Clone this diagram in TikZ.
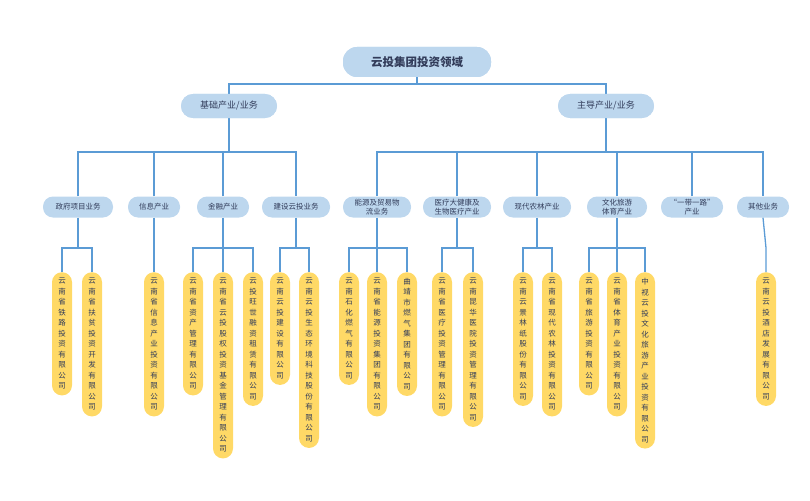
\documentclass[tikz,border=0pt]{standalone}
\usepackage{fontspec}
\setmainfont{Noto Sans CJK SC}
\def\vtx#1#2\relax{#1\if\relax\detokenize{#2}\relax\else\\\vtx#2\relax\fi}
\def\vt#1{\vtx#1\relax}
\definecolor{ln}{RGB}{91,155,213}
\definecolor{bl}{RGB}{189,215,238}
\definecolor{yl}{RGB}{255,217,102}
\definecolor{tx}{RGB}{50,60,90}
\tikzset{
 root/.style={fill=bl,rounded corners=14pt,minimum width=148pt,minimum height=30pt,font=\fontsize{11.5}{13}\selectfont\bfseries,text=tx},
 lone/.style={fill=bl,rounded corners=12pt,minimum width=96pt,minimum height=24pt,font=\fontsize{9}{11}\selectfont,text=tx},
 ltwo/.style={fill=bl,rounded corners=10pt,minimum height=21pt,inner xsep=3pt,inner ysep=2pt,font=\fontsize{7.5}{9}\selectfont,text=tx,align=center},
 leaf/.style={fill=yl,rounded corners=10pt,minimum width=20pt,text width=9pt,inner xsep=5.5pt,inner ysep=6pt,anchor=north,align=center,font=\fontsize{7.5}{10.5}\selectfont,text=tx},
 cn/.style={draw=ln,line width=1.3pt}
}
\begin{document}
\begin{tikzpicture}[x=1pt,y=-1pt]
\useasboundingbox (0,0) rectangle (810,500);
% connectors first
\node[root] (r) at (417,62) {云投集团投资领域};
\node[lone] (a) at (229,106) {基础产业/业务};
\node[lone] (b) at (606,106) {主导产业/业务};
\coordinate (rb) at (417,84);
\coordinate (ab) at (229,84);
\coordinate (bb) at (606,84);
\begin{scope}[on background layer/.style={}]
\end{scope}
% level 2
\node[ltwo,minimum width=70pt] (g1) at (78,207) {政府项目业务};
\node[ltwo,minimum width=52pt] (g2) at (154,207) {信息产业};
\node[ltwo,minimum width=52pt] (g3) at (223,207) {金融产业};
\node[ltwo,minimum width=68pt] (g4) at (296,207) {建设云投业务};
\node[ltwo,minimum width=68pt] (h1) at (377,207) {能源及贸易物\\流业务};
\node[ltwo,minimum width=68pt] (h2) at (457,207) {医疗大健康及\\生物医疗产业};
\node[ltwo,minimum width=68pt] (h3) at (537,207) {现代农林产业};
\node[ltwo,minimum width=60pt] (h4) at (617,207) {文化旅游\\体育产业};
\node[ltwo,minimum width=62pt] (h5) at (692,207) {“一带一路”\\产业};
\node[ltwo,minimum width=52pt] (h6) at (763,207) {其他业务};
% leaves
\node[leaf] (l1) at (62,272) {\vt{云南省铁路投资有限公司}};
\node[leaf] (l2) at (92,272) {\vt{云南省扶贫投资开发有限公司}};
\node[leaf] (l3) at (154,272) {\vt{云南省信息产业投资有限公司}};
\node[leaf] (l4) at (193,272) {\vt{云南省资产管理有限公司}};
\node[leaf] (l5) at (223,272) {\vt{云南省云投股权投资基金管理有限公司}};
\node[leaf] (l6) at (253,272) {\vt{云投旺世融资租赁有限公司}};
\node[leaf] (l7) at (280,272) {\vt{云南云投建设有限公司}};
\node[leaf] (l8) at (309,272) {\vt{云南云投生态环境科技股份有限公司}};
\node[leaf] (l9) at (349,272) {\vt{云南石化燃气有限公司}};
\node[leaf] (l10) at (377,272) {\vt{云南省能源投资集团有限公司}};
\node[leaf] (l11) at (407,272) {\vt{曲靖市燃气集团有限公司}};
\node[leaf] (l12) at (442,272) {\vt{云南省医疗投资管理有限公司}};
\node[leaf] (l13) at (473,272) {\vt{云南昆华医院投资管理有限公司}};
\node[leaf] (l14) at (523,272) {\vt{云南云景林纸股份有限公司}};
\node[leaf] (l15) at (552,272) {\vt{云南省现代农林投资有限公司}};
\node[leaf] (l16) at (589,272) {\vt{云南省旅游投资有限公司}};
\node[leaf] (l17) at (617,272) {\vt{云南省体育产业投资有限公司}};
\node[leaf] (l18) at (645,272) {\vt{中视云投文化旅游产业投资有限公司}};
\node[leaf] (l19) at (766,272) {\vt{云南云投酒店发展有限公司}};
% connectors
\begin{scope}[cn]
\draw (r) -- (rb);
\draw (a) |- (rb) -| (b);
\draw (a.south) -- (229,152);
\draw (b.south) -- (606,152);
\draw (g1) |- (229,152) -| (g4);
\draw (g2) -- (154,152);
\draw (g3) -- (223,152);
\draw (h1) |- (606,152) -| (h6);
\draw (h2) -- (457,152);
\draw (h3) -- (537,152);
\draw (h4) -- (617,152);
\draw (h5) -- (692,152);
\draw (g1.south) -- (78,248);
\draw (l1) |- (78,248) -| (l2);
\draw (g2) -- (l3);
\draw (g3) -- (l5);
\draw (l4) |- (223,248) -| (l6);
\draw (g4.south) -- (296,248);
\draw (l7) |- (296,248) -| (l8);
\draw (h1) -- (l10);
\draw (l9) |- (377,248) -| (l11);
\draw (h2.south) -- (457,248);
\draw (l12) |- (457,248) -| (l13);
\draw (h3.south) -- (537,248);
\draw (l14) |- (537,248) -| (l15);
\draw (h4) -- (l17);
\draw (l16) |- (617,248) -| (l18);
\draw (h6.south) -- (766,248) -- (l19);
\end{scope}
% redraw nodes on top
\node[root] at (r) {云投集团投资领域};
\node[lone] at (a) {基础产业/业务};
\node[lone] at (b) {主导产业/业务};
\end{tikzpicture}
\end{document}
